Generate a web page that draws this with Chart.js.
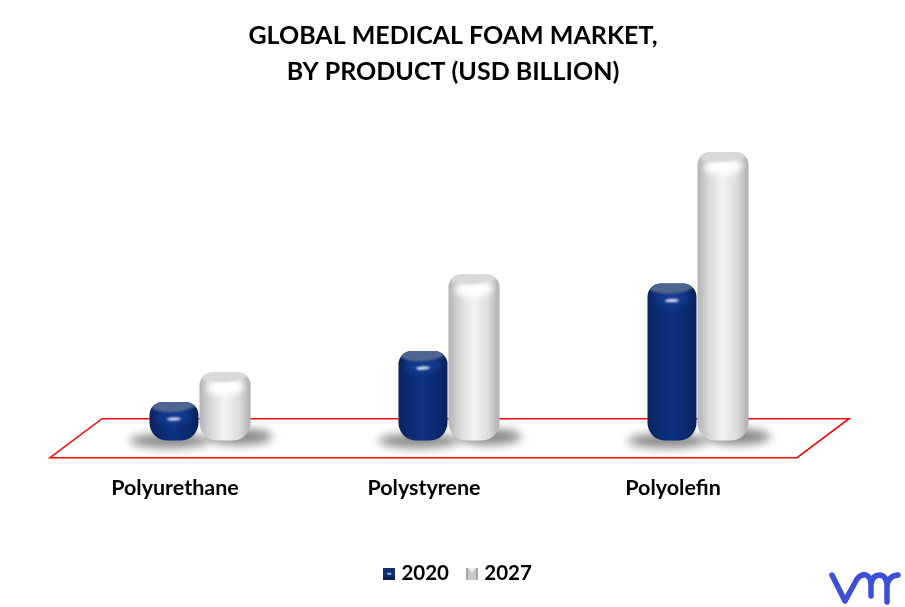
<!DOCTYPE html>
<html>
<head>
<meta charset="utf-8">
<title>Global Medical Foam Market</title>
<script src="https://cdn.jsdelivr.net/npm/chart.js@4"></script>
<style>
	html, body { margin: 0; padding: 0; background: #fff; overflow: hidden; }
	canvas { display: block; }
</style>
</head>
<body>
<canvas id="foamChart" width="905" height="607"></canvas>
<script>
const titleLines = ['GLOBAL MEDICAL FOAM MARKET,', 'BY PRODUCT (USD BILLION)'];
const categories = ['Polyurethane', 'Polystyrene', 'Polyolefin'];
const years = ['2020', '2027'];
const values2020 = [0.79, 1.83, 3.21];
const values2027 = [1.40, 3.40, 5.90];

const CAT_PCT = 0.41;
const FONT = 'Lato, "Open Sans", sans-serif';
const CORNERS = { topLeft: 13, topRight: 13, bottomLeft: 18, bottomRight: 18 };

// horizontal cylinder shading, edge to centre to edge
const shades = [
	['#0a2460', '#0a2a70', '#0f3282', '#0a2a70', '#071f58'],
	['#b4b4b4', '#d8d8d8', '#f5f2f4', '#dcdcdc', '#aeaeae']
];

function barFill(ctx) {
	let chart = ctx.chart;
	if (ctx.type !== 'data' || !chart.chartArea) return shades[ctx.datasetIndex][1];
	let x = chart.scales.x;
	let slot = x.width / categories.length * CAT_PCT / 2;
	let centre = x.getPixelForValue(ctx.dataIndex);
	let left = ctx.datasetIndex === 0 ? centre - slot : centre;
	let g = chart.ctx.createLinearGradient(left, 0, left + slot, 0);
	let s = shades[ctx.datasetIndex];
	g.addColorStop(0, s[0]);
	g.addColorStop(0.22, s[1]);
	g.addColorStop(0.5, s[2]);
	g.addColorStop(0.78, s[3]);
	g.addColorStop(1, s[4]);
	return g;
}

function legendMarker(i) {
	let c = document.createElement('canvas');
	c.width = 12;
	c.height = 12;
	let m = c.getContext('2d');
	if (i === 0) {
		m.fillStyle = '#12306f';
		m.fillRect(0, 0, 12, 12);
		m.fillStyle = '#0a1f52';
		m.fillRect(0, 9, 12, 3);
		m.fillStyle = '#9fb2d8';
		m.fillRect(4, 5, 4, 2);
	} else {
		m.fillStyle = '#c9c9c9';
		m.fillRect(0, 0, 12, 12);
		m.fillStyle = '#f1f1f1';
		m.beginPath();
		m.moveTo(2, 0);
		m.lineTo(6, 5);
		m.lineTo(10, 0);
		m.closePath();
		m.fill();
		m.fillStyle = '#a8a8a8';
		m.fillRect(0, 0, 2, 12);
		m.fillRect(10, 0, 2, 12);
	}
	return c;
}

// title and legend sit a little right of the page centre
const nudgePlugin = {
	id: 'nudge',
	afterLayout(chart) {
		chart.titleBlock.left += 4.5;
		chart.titleBlock.right += 4.5;
		chart.legend.left += 11;
		chart.legend.right += 11;
	}
};

// red floor, sits under the bars
const floorPlugin = {
	id: 'floor',
	beforeDatasetsDraw(chart) {
		let a = chart.chartArea;
		let c = chart.ctx;
		let front = a.bottom + 17;
		let back = a.bottom - 22;
		c.save();
		c.strokeStyle = '#fa0808';
		c.lineWidth = 1.6;
		c.beginPath();
		c.moveTo(a.left - 25, front);
		c.lineTo(a.right - 25, front);
		c.lineTo(a.right + 27, back);
		c.lineTo(a.left + 27, back);
		c.closePath();
		c.stroke();
		// soft shadow round the foot of each pair
		c.filter = 'blur(5px)';
		c.fillStyle = 'rgba(105,105,105,0.8)';
		categories.forEach(function (name, i) {
			let mid = chart.scales.x.getPixelForValue(i);
			c.beginPath();
			c.ellipse(mid - 30, a.bottom, 40, 7, 0, 0, Math.PI * 2);
			c.ellipse(mid + 40, a.bottom - 4, 33, 8, 0, 0, Math.PI * 2);
			c.fill();
		});
		c.restore();
	}
};

// cap, highlight and foot on each cylinder
const cylinderPlugin = {
	id: 'cylinder',
	afterDatasetsDraw(chart) {
		let c = chart.ctx;
		chart.data.datasets.forEach(function (ds, di) {
			chart.getDatasetMeta(di).data.forEach(function (bar) {
				let p = bar.getProps(['x', 'y', 'base', 'width']);
				let left = p.x - p.width / 2;
				let h = p.base - p.y;
				c.save();
				c.beginPath();
				c.roundRect(left, p.y, p.width, h, [CORNERS.topLeft, CORNERS.topRight, CORNERS.bottomRight, CORNERS.bottomLeft]);
				c.clip();
				// glow under the top face
				c.filter = 'blur(3px)';
				c.fillStyle = di === 0 ? '#133a8e' : '#ffffff';
				c.beginPath();
				c.ellipse(p.x, p.y + 15, p.width / 2 - 7, 8, -0.05, 0, Math.PI * 2);
				c.fill();
				c.filter = 'blur(1px)';
				// top face
				c.fillStyle = di === 0 ? '#4f6591' : '#d9d9d9';
				c.beginPath();
				c.ellipse(p.x, p.y + 3, p.width / 2 - 2, 7, -0.07, 0, Math.PI * 2);
				c.fill();
				if (di === 0) {
					c.fillStyle = '#e6edfb';
					c.beginPath();
					c.ellipse(p.x, p.y + 17, 7, 1.5, -0.05, 0, Math.PI * 2);
					c.fill();
				}
				c.filter = 'none';
				c.restore();
			});
		});
	}
};

// vmr mark, bottom right corner
const logoPlugin = {
	id: 'logo',
	afterDraw(chart) {
		let c = chart.ctx;
		c.save();
		c.strokeStyle = '#3d4fd6';
		c.lineWidth = 5.5;
		c.lineCap = 'round';
		c.lineJoin = 'round';
		c.beginPath();
		c.moveTo(832, 575);
		c.lineTo(845, 601);
		c.lineTo(857, 579);
		c.quadraticCurveTo(861, 574, 866, 575);
		c.quadraticCurveTo(871, 577, 871, 585);
		c.lineTo(871, 596);
		c.moveTo(871, 585);
		c.quadraticCurveTo(872, 575, 880, 575);
		c.quadraticCurveTo(887, 576, 887, 586);
		c.lineTo(887, 602);
		c.moveTo(887, 586);
		c.quadraticCurveTo(888, 576, 898, 575);
		c.stroke();
		c.restore();
	}
};

function barOptions(pct) {
	return {
		backgroundColor: barFill,
		categoryPercentage: CAT_PCT,
		barPercentage: pct,
		borderSkipped: false,
		borderWidth: 0,
		borderRadius: CORNERS
	};
}

new Chart(document.getElementById('foamChart').getContext('2d'), {
	type: 'bar',
	data: {
		labels: categories,
		datasets: [
			Object.assign({ label: years[0], data: values2020 }, barOptions(0.96)),
			Object.assign({ label: years[1], data: values2027 }, barOptions(1))
		]
	},
	plugins: [nudgePlugin, floorPlugin, cylinderPlugin, logoPlugin],
	options: {
		responsive: false,
		animation: false,
		devicePixelRatio: 1,
		layout: { padding: { left: 75, right: 83, top: 14, bottom: 13 } },
		scales: {
			x: {
				grid: { display: false },
				border: { display: false },
				afterFit: function (scale) { scale.height += 16; },
				ticks: {
					color: '#000',
					padding: 26,
					labelOffset: -24.5,
					font: { family: FONT, size: 21.5, weight: 'bold' }
				}
			},
			y: { display: false, min: 0, max: 6 }
		},
		plugins: {
			title: {
				display: true,
				text: titleLines,
				color: '#000',
				padding: { top: 4, bottom: 57 },
				font: { family: FONT, size: 25, weight: 'bold', lineHeight: 1.44 }
			},
			legend: {
				position: 'bottom',
				labels: {
					usePointStyle: true,
					pointStyleWidth: 4,
					color: '#000',
					padding: 21,
					font: { family: FONT, size: 20.5, weight: 'bold' },
					generateLabels: function () {
						return years.map(function (y, i) {
							return { text: y, pointStyle: legendMarker(i), datasetIndex: i, lineWidth: 0, strokeStyle: 'transparent', fontColor: '#000' };
						});
					}
				}
			},
			tooltip: { enabled: false }
		}
	}
});
</script>
</body>
</html>
